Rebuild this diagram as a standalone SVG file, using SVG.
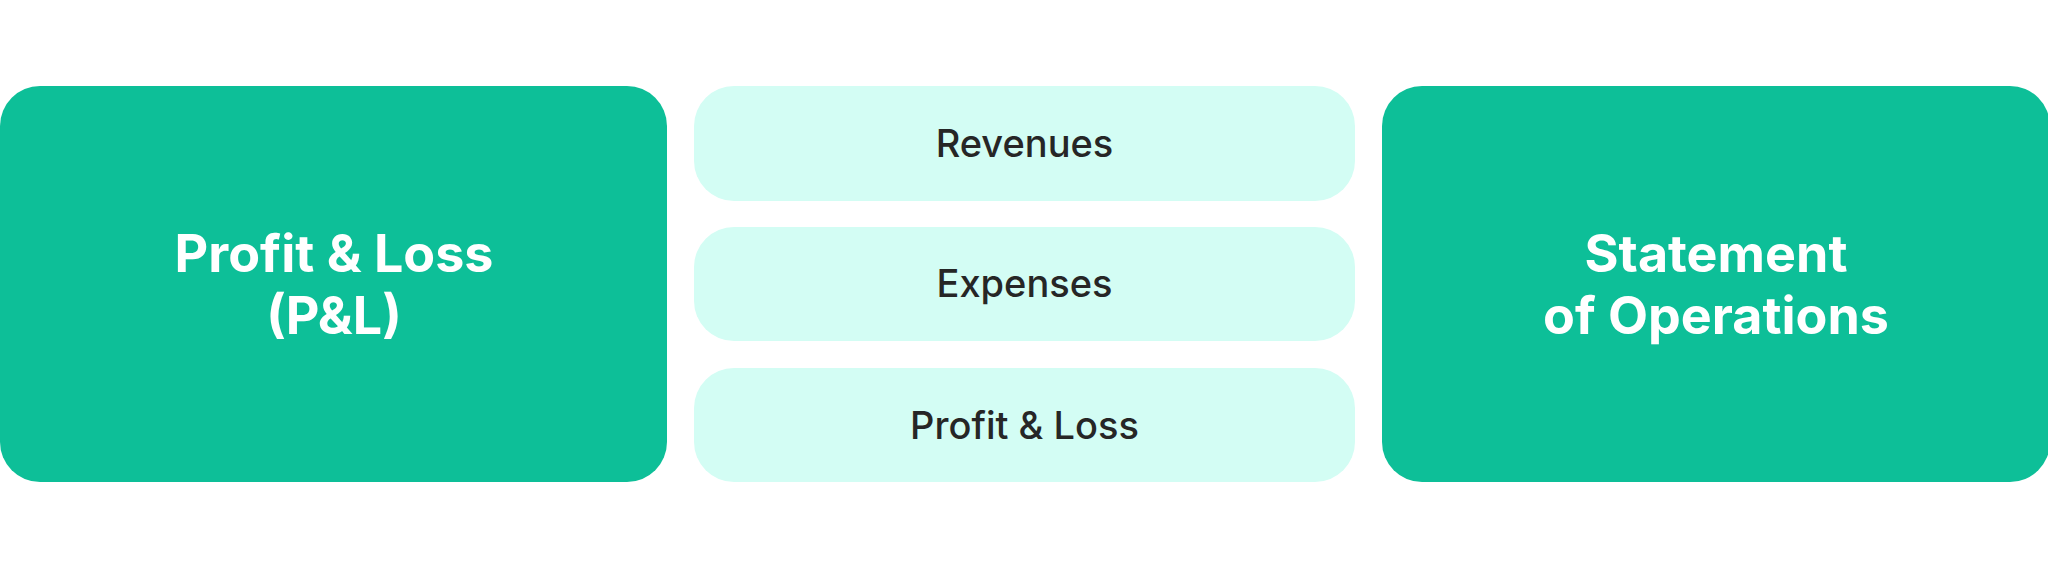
<svg xmlns="http://www.w3.org/2000/svg" width="2048" height="569" viewBox="0 0 2048 569">
<style>
.big{fill:#0DBF98}
.small{fill:#D3FDF4}
.wt{font-family:Inter,"Liberation Sans",sans-serif;font-size:52px;font-weight:700;fill:#FFFFFF;text-anchor:middle}
.dt{font-family:Inter,"Liberation Sans",sans-serif;font-size:38px;font-weight:500;fill:#262626;text-anchor:middle}
</style>
<rect width="2048" height="569" fill="#FFFFFF"/>
<g id="connectors"></g>
<g id="node-pl">
<rect class="big" x="0" y="86" width="667" height="396" rx="40"/>
<text class="wt" x="334" y="272">Profit &amp; Loss</text>
<text class="wt" x="334" y="334">(P&amp;L)</text>
</g>
<g id="node-revenues">
<rect class="small" x="694" y="86" width="661" height="115" rx="40"/>
<text class="dt" x="1024.5" y="157">Revenues</text>
</g>
<g id="node-expenses">
<rect class="small" x="694" y="227" width="661" height="114" rx="40"/>
<text class="dt" x="1024.5" y="297">Expenses</text>
</g>
<g id="node-profit-loss">
<rect class="small" x="694" y="368" width="661" height="114" rx="40"/>
<text class="dt" x="1024.5" y="439">Profit &amp; Loss</text>
</g>
<g id="node-statement">
<rect class="big" x="1382" y="86" width="668" height="396" rx="40"/>
<text class="wt" x="1716" y="272">Statement</text>
<text class="wt" x="1716" y="334">of Operations</text>
</g>
</svg>
